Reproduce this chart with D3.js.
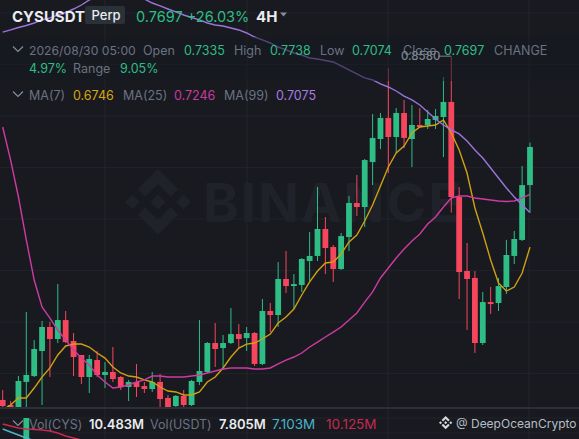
<!DOCTYPE html>
<html><head><meta charset="utf-8">
<script src="https://cdn.jsdelivr.net/npm/d3@7/dist/d3.min.js"></script>
<style>html,body{margin:0;padding:0;background:#181a20;overflow:hidden}svg{display:block}text{font-family:Inter,"Noto Sans",sans-serif}</style>
</head><body><svg id="c" width="579" height="439"></svg>
<script>
const open=[.5294,.5246,.5180,.5465,.5521,.5759,.5987,.5873,.6053,.5854,.5721,.5512,.5673,.5531,.5560,.5512,.5417,.5465,.5426,.5398,.5465,.5313,.5236,.5332,.5246,.5465,.5560,.5835,.5787,.5835,.5920,.5882,.5930,.5636,.6139,.6101,.6443,.6376,.6386,.6614,.6662,.6918,.6747,.6538,.6842,.7165,.7127,.7554,.7773,.7973,.7792,.8020,.7773,.7906,.7906,.7954,.7982,.8125,.7222,.6519,.6453,.5835,.6224,.6215,.6367,.6662,.6814,.7335];
const close=[.5236,.5208,.5474,.5531,.5778,.5987,.5873,.6053,.5844,.5702,.5512,.5683,.5531,.5560,.5493,.5417,.5465,.5417,.5398,.5465,.5303,.5199,.5332,.5246,.5474,.5569,.5835,.5778,.5835,.5920,.5873,.5930,.5636,.6139,.6101,.6443,.6376,.6395,.6633,.6662,.6918,.6737,.6538,.6851,.7165,.7127,.7573,.7783,.7973,.7792,.8020,.7783,.7906,.7887,.7963,.7992,.8125,.7222,.6509,.6443,.5835,.6224,.6205,.6376,.6671,.6823,.7335,.7697];
const high=[.5389,.5284,.5521,.6130,.5863,.6044,.6034,.6395,.6139,.5930,.5721,.5721,.5759,.5654,.5797,.5521,.5484,.5636,.5465,.5560,.5541,.5341,.5341,.5389,.5484,.6053,.5844,.6025,.5911,.6167,.6015,.5987,.5939,.6253,.6215,.6604,.6709,.6490,.6642,.6889,.7317,.7032,.6766,.6880,.7232,.7431,.7583,.8010,.8020,.8448,.8067,.8144,.8096,.8067,.8049,.8058,.8362,.8560,.7317,.6785,.6519,.6320,.6367,.6453,.6814,.6899,.7517,.7738];
const low=[.5180,.5161,.5161,.5180,.5512,.5246,.5512,.5835,.5835,.5521,.5445,.5360,.5512,.5407,.5465,.5389,.5284,.5322,.5360,.5370,.5199,.5180,.5227,.5218,.5236,.5436,.5550,.5607,.5579,.5825,.5787,.5759,.5617,.5626,.5939,.5987,.6310,.6158,.6320,.6424,.6614,.6490,.6415,.6529,.6709,.7041,.6937,.7336,.7678,.7450,.7640,.7687,.7507,.7878,.7868,.7868,.7602,.7074,.6253,.5958,.5740,.5816,.6111,.6139,.6301,.6586,.6804,.7074];
const ma7=[.5199,.5246,.5313,.5313,.5407,.5512,.5598,.5721,.5807,.5825,.5825,.5797,.5740,.5692,.5607,.5550,.5521,.5512,.5484,.5465,.5417,.5379,.5370,.5341,.5341,.5370,.5465,.5512,.5598,.5702,.5787,.5825,.5835,.5873,.5920,.6025,.6082,.6158,.6291,.6415,.6519,.6595,.6604,.6680,.6795,.6861,.6994,.7146,.7326,.7507,.7640,.7706,.7830,.7887,.7897,.7906,.7954,.7830,.7669,.7450,.7118,.6880,.6624,.6405,.6329,.6367,.6500,.6746];
const ma25=[.7887,.7574,.7222,.6814,.6433,.6177,.6072,.5958,.5863,.5769,.5692,.5626,.5531,.5465,.5407,.5417,.5436,.5465,.5484,.5521,.5521,.5512,.5512,.5512,.5521,.5531,.5550,.5569,.5588,.5598,.5598,.5598,.5588,.5588,.5598,.5636,.5673,.5702,.5740,.5797,.5844,.5892,.5939,.5987,.6053,.6120,.6224,.6320,.6453,.6548,.6643,.6728,.6804,.6870,.6966,.7032,.7127,.7213,.7232,.7232,.7213,.7203,.7194,.7184,.7179,.7184,.7213,.7246];
const ma99=[.8789,.8809,.8832,.8851,.8875,.8904,.8923,.8951,.8975,.9008,.9046,.9094,.9122,.9151,.9160,.9160,.9151,.9132,.9103,.9065,.9037,.9008,.8980,.8951,.8927,.8904,.8875,.8856,.8847,.8828,.8809,.8780,.8742,.8714,.8685,.8647,.8619,.8590,.8571,.8543,.8533,.8519,.8505,.8467,.8429,.8391,.8353,.8334,.8296,.8267,.8229,.8181,.8144,.8096,.8030,.7963,.7906,.7859,.7821,.7754,.7669,.7593,.7498,.7403,.7308,.7222,.7146,.7075];
const volIndex=[3];
const volume=[72.5];
const volMaLong=[57.5,52.5,47.5,45,44,42.5,40,35,27.5,22.5,17.5,12.5];
const volMaShort=[45,37.5,30,22.5,15];
const legendValues=["0.7335","0.7738","0.7074","0.7697"];
const maxLabel="0.8580";

const GREEN="#2ebd85",RED="#f6465d",BG="#181a20";
const svg=d3.select("#c");
const x=d3.scaleLinear().domain([0,67]).range([2.7,530]);
const y=d3.scaleLinear().domain([.90935,.52935]).range([0,400]);
const vy=d3.scaleLinear().domain([0,100]).range([447,407]);
const defs=svg.append("defs");
defs.append("clipPath").attr("id","main").append("rect").attr("width",579).attr("height",407);
defs.append("clipPath").attr("id","vol").append("rect").attr("y",409).attr("width",579).attr("height",30);

svg.append("rect").attr("width",579).attr("height",439).attr("fill",BG);
// grid
const gridY=[13,64.5,116,167.5,219,270.5,322,373.5,418,433];
const gridX=[105,247,388,529];
svg.append("g").selectAll("line").data(gridY).join("line").attr("x1",0).attr("x2",579).attr("y1",d=>d).attr("y2",d=>d).attr("stroke","#1f2228");
svg.append("g").selectAll("line").data(gridX).join("line").attr("y1",0).attr("y2",439).attr("x1",d=>d).attr("x2",d=>d).attr("stroke","#22252b");
// watermark
const logoPath="M38.73 53.2l24.59-24.58 24.6 24.6 14.3-14.31L63.32 0 24.42 38.9l14.31 14.3zM0 63.31l14.3-14.31 14.31 14.31-14.31 14.3zM38.73 73.41l24.59 24.59 24.6-24.6 14.31 14.29-38.9 38.91-38.91-38.88-.02-.02zM98 63.31l14.3-14.31 14.31 14.31-14.31 14.3zM77.83 63.3L63.32 48.78 52.59 59.51l-1.24 1.23-2.54 2.54 14.51 14.5 14.51-14.47z";
svg.append("path").attr("d",logoPath).attr("fill","#1f2228").attr("transform","translate(125,169) scale(.52)");
svg.append("text").attr("x",203).attr("y",222).attr("font-size",54).attr("font-weight",700).attr("letter-spacing",2).attr("fill","#1f2228").text("BINANCE");

const main=svg.append("g").attr("clip-path","url(#main)");
const idx=d3.range(open.length);
main.append("g").selectAll("line").data(idx).join("line")
 .attr("x1",i=>x(i)).attr("x2",i=>x(i)).attr("y1",i=>y(high[i])).attr("y2",i=>y(low[i]))
 .attr("stroke",i=>close[i]>=open[i]?GREEN:RED).attr("stroke-width",1);
main.append("g").selectAll("rect").data(idx).join("rect")
 .attr("x",i=>x(i)-2.9).attr("width",5.8)
 .attr("y",i=>y(Math.max(open[i],close[i])))
 .attr("height",i=>Math.max(1,Math.abs(y(open[i])-y(close[i]))))
 .attr("fill",i=>close[i]>=open[i]?GREEN:RED);
const line=d3.line().x((d,i)=>x(i)).y(d=>y(d));
[[ma7,"#d0a012"],[ma25,"#cf3aa3"],[ma99,"#9b74dc"]].forEach(([s,c])=>{
 main.append("path").attr("d",line(s)).attr("fill","none").attr("stroke",c).attr("stroke-width",1.4);
});

// volume pane
const vol=svg.append("g").attr("clip-path","url(#vol)");
vol.selectAll("rect").data(volIndex).join("rect").attr("x",i=>x(i)-2.9).attr("width",5.8).attr("y",(i,k)=>vy(volume[k])).attr("height",(i,k)=>vy(0)-vy(volume[k])).attr("fill",GREEN);
const vline=d3.line().x((d,i)=>x(i)).y(d=>vy(d));
vol.append("path").attr("d",vline(volMaShort)).attr("fill","none").attr("stroke","#4bb4c8").attr("stroke-width",1.6);
vol.append("path").attr("d",vline(volMaLong)).attr("fill","none").attr("stroke","#c8284f").attr("stroke-width",1.6);

// divider
svg.append("rect").attr("x",0).attr("y",407).attr("width",579).attr("height",2).attr("fill","#2b2f36");
// legend veil
svg.append("rect").attr("x",0).attr("y",37).attr("width",579).attr("height",44).attr("fill",BG).attr("opacity",.55);

function t(xp,yp,s,c,size,w){return svg.append("text").attr("x",xp).attr("y",yp).attr("fill",c).attr("font-size",size||12.5).attr("font-weight",w||400).text(s);}
const GRAY="#848e9c",GRAY2="#6b7280",G2="#2ebd85";
t(12,22,"CYSUSDT","#eaecef",15,700);
svg.append("rect").attr("x",85).attr("y",6).attr("width",40).attr("height",18).attr("rx",2).attr("fill","#2b3139");
t(91.5,20,"Perp","#eaecef",13,500);
t(136,22,"0.7697 +26.03%",G2,14.5);
t(256,22,"4H","#eaecef",15,700);
svg.append("path").attr("d",d3.line()([[280,12.5],[287,12.5],[283.5,16.5]])+"Z").attr("fill","#848e9c");

function chev(cx,cy){svg.append("path").attr("d",d3.line()([[cx-5,cy-2.5],[cx,cy+2.5],[cx+5,cy-2.5]])).attr("fill","none").attr("stroke",GRAY).attr("stroke-width",1.2);}
chev(18,49);chev(18,94);chev(18,423);
const rowY=54.5;
t(29,rowY,"2026/08/30 05:00",GRAY2,12.2);
t(143,rowY,"Open",GRAY2);t(184,rowY,legendValues[0],G2);
t(234,rowY,"High",GRAY2);t(270,rowY,legendValues[1],G2);
t(320,rowY,"Low",GRAY2);t(352,rowY,legendValues[2],G2);
t(403,rowY,"Close",GRAY2);t(444,rowY,legendValues[3],G2);
t(494,rowY,"CHANGE",GRAY2);
t(29,72.5,"4.97%",G2);t(73,72.5,"Range",GRAY2);t(120,72.5,"9.05%",G2);
t(29,99.5,"MA(7)",GRAY2);t(73,99.5,"0.6746","#d9a40f");
t(123,99.5,"MA(25)",GRAY2);t(174,99.5,"0.7246","#c9399e");
t(224,99.5,"MA(99)",GRAY2);t(276,99.5,"0.7075","#a77be0");
// high marker
t(401,60,maxLabel,"#7d8590",11.5,500);
svg.append("line").attr("x1",438).attr("x2",451).attr("y1",y(high[57])).attr("y2",y(high[57])).attr("stroke","#7d8590");
// bottom legend
const by=428.5;
t(29,by,"Vol(CYS)",GRAY2);t(89,by,"10.483M","#eaecef",13,600);
t(150,by,"Vol(USDT)",GRAY2);t(219,by,"7.805M","#eaecef",13,600);
t(272,by,"7.103M","#4bb4c8",13.5);t(326,by,"10.125M","#c8284f",13.5);
svg.append("path").attr("d",logoPath).attr("fill","#d5d7db").attr("transform","translate(439,416) scale(.105)");
t(456,by-1,"@ DeepOceanCrypto","#b7bdc6",12);
</script></body></html>
